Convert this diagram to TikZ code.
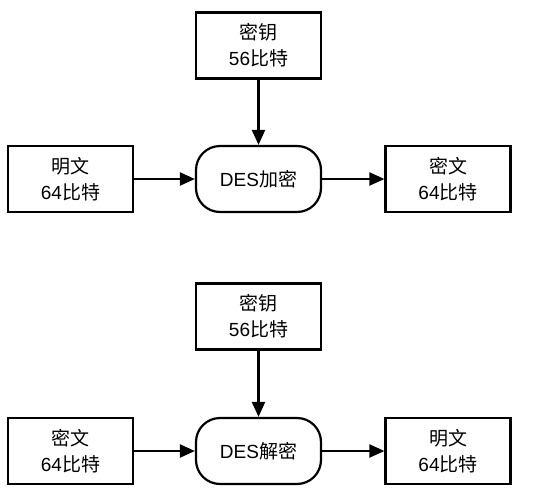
\documentclass[tikz,border=0pt]{standalone}
\usepackage{fontspec}
\setmainfont{Liberation Sans}
\newfontfamily\cjk{Noto Sans CJK SC}
\usetikzlibrary{arrows.meta}
\begin{document}
\begin{tikzpicture}[x=1pt,y=-1pt,
  box/.style={draw, line width=2.2pt, minimum width=125pt, minimum height=66pt,
    align=center, font=\fontsize{19}{26}\selectfont, inner sep=0pt},
  proc/.style={box, rounded corners=24pt},
  arr/.style={-{Triangle[length=15pt,width=13pt]}, line width=2.2pt}]
\useasboundingbox (0,0) rectangle (554,498);
% top: encryption
\node[box]  (k1) at (258.5,45.5) {{\cjk 密钥}\\56{\cjk 比特}};
\node[box]  (p1) at (70.5,179)   {{\cjk 明文}\\64{\cjk 比特}};
\node[proc] (e1) at (258.5,179)  {DES{\cjk 加密}};
\node[box]  (c1) at (448,179)    {{\cjk 密文}\\64{\cjk 比特}};
\draw[arr] (k1.south) -- (e1.north);
\draw[arr] (p1.east) -- (e1.west);
\draw[arr] (e1.east) -- (c1.west);
% bottom: decryption
\node[box]  (k2) at (258.5,316.5) {{\cjk 密钥}\\56{\cjk 比特}};
\node[box]  (p2) at (70.5,451)    {{\cjk 密文}\\64{\cjk 比特}};
\node[proc] (e2) at (258.5,451)   {DES{\cjk 解密}};
\node[box]  (c2) at (448,451)     {{\cjk 明文}\\64{\cjk 比特}};
\draw[arr] (k2.south) -- (e2.north);
\draw[arr] (p2.east) -- (e2.west);
\draw[arr] (e2.east) -- (c2.west);
\end{tikzpicture}
\end{document}
